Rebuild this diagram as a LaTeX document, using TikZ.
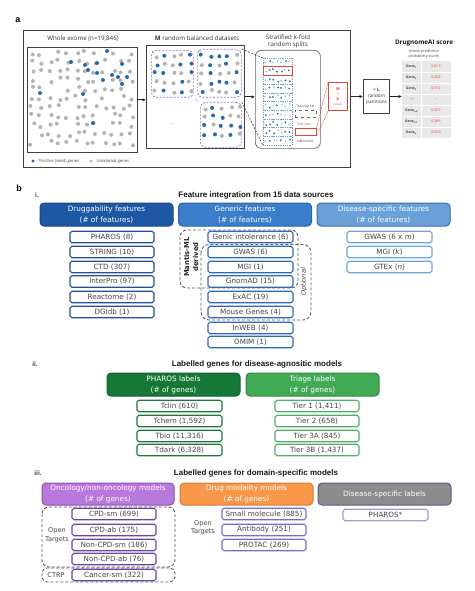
\documentclass[tikz,border=0pt]{standalone}
\usepackage{fontspec}
\setmainfont{DejaVu Sans}
\newfontfamily\osans{Open Sans}
\newfontfamily\lsans{Liberation Sans}
\usetikzlibrary{arrows.meta}
\newcommand\fs[2]{\fontsize{#1pt}{#2pt}\selectfont}
\newcommand\tdots{...}
\definecolor{dotblue}{RGB}{40,105,170}
\definecolor{dotgrey}{RGB}{180,180,180}
\definecolor{sdash}{RGB}{150,110,205}
\definecolor{redc}{RGB}{225,70,60}
\definecolor{hbA}{RGB}{30,88,165}
\definecolor{hbAd}{RGB}{25,70,140}
\definecolor{hbB}{RGB}{58,125,200}
\definecolor{hbBd}{RGB}{40,100,170}
\definecolor{hbC}{RGB}{105,160,215}
\definecolor{hbCd}{RGB}{60,110,170}
\definecolor{ibA}{RGB}{35,80,150}
\definecolor{ibB}{RGB}{45,105,180}
\definecolor{ibC}{RGB}{110,165,220}
\definecolor{hgA}{RGB}{22,120,55}
\definecolor{hgB}{RGB}{65,170,85}
\definecolor{igA}{RGB}{30,120,60}
\definecolor{igB}{RGB}{80,175,100}
\definecolor{hpu}{RGB}{185,120,220}
\definecolor{hpud}{RGB}{140,80,180}
\definecolor{ipu}{RGB}{105,70,160}
\definecolor{hor}{RGB}{247,152,75}
\definecolor{hord}{RGB}{220,120,50}
\definecolor{hgr}{RGB}{140,140,140}
\definecolor{hgrd}{RGB}{100,90,130}
\definecolor{imo}{RGB}{125,105,200}
\definecolor{iph}{RGB}{165,155,215}
\definecolor{txg}{RGB}{70,70,70}
\definecolor{dashg}{RGB}{90,90,90}
\definecolor{stripec}{RGB}{120,160,200}

\newcommand\mydots[4]{%
  \foreach \i in {0,...,#3}{
    \foreach \j in {0,...,#4}{
      \pgfmathsetmacro\px{#1+\i*8.5+1.6*rand}
      \pgfmathsetmacro\py{#2+\j*8.8+1.6*rand}
      \pgfmathtruncatemacro\cc{rnd<0.5 ? 1 : 0}
      \ifnum\cc=1 \fill[dotblue] (\px,\py) circle (2.0);
      \else \fill[dotgrey] (\px,\py) circle (2.0); \fi
    }}}

\begin{document}
\begin{tikzpicture}[x=1pt,y=-1pt,
  abox/.style={draw=black!75, line width=0.8pt, inner sep=0pt},
  sbox/.style={draw=sdash, line width=0.7pt, rounded corners=5pt, inner sep=0pt, dash pattern=on 2pt off 1.5pt},
  arr/.style={-{Latex[length=3.5pt,width=3.5pt]}, line width=1pt, black!85},
  atitle/.style={font=\osans\fs{6.2}{7.4}, text=black!80},
  atiny/.style={font=\osans\fs{3.4}{4.2}, text=black!70},
  ttl/.style={font=\lsans\bfseries\fs{8}{9.6}, text=black!90},
  sec/.style={font=\lsans\bfseries\fs{6.5}{8}, text=black!75},
  hdr/.style={rounded corners=4pt, line width=1pt, minimum width=133pt, minimum height=23pt, inner sep=0pt, align=center, font=\fs{7.3}{11}, text=white},
  item/.style={draw, rounded corners=1.8pt, line width=1.1pt, minimum width=84pt, minimum height=11.5pt, inner sep=0pt, font=\fs{7.2}{8}, text=txg, fill=white},
  dashreg/.style={draw=dashg, line width=0.9pt, dash pattern=on 3pt off 2pt},
  lbl/.style={font=\fs{6.6}{8.5}, text=txg, align=center}
]
\useasboundingbox (0,0) rectangle (474,591);
\fill[white] (0,0) rectangle (474,591);

% ================= panel a =================
\node[font=\lsans\bfseries\fs{9}{10}] (la) at (18,20) {a};
\node[abox, anchor=north west, minimum width=327pt, minimum height=137pt] (outer) at (23,30) {};
\node[abox, anchor=north west, minimum width=110pt, minimum height=105pt] (exome) at (27,47) {};
\node[atitle] (exomet) at (83,39) {Whole exome (n=19,846)};

\pgfmathsetseed{4242}
\foreach \i in {0,...,11}{
  \foreach \j in {0,...,10}{
    \pgfmathsetmacro\px{32+\i*9+2.4*rand}
    \pgfmathsetmacro\py{53+\j*9+2.4*rand}
    \pgfmathtruncatemacro\skp{rnd>0.86 ? 1 : 0}
    \ifnum\skp=0 \fill[dotgrey] (\px,\py) circle (2.0); \fi
  }}
\foreach \p in {(107,51),(71,62),(85,65),(97,63),(88,70),(122,64),(112,75),(118,77),(97,73),(103,80),(127,77),(122,84),(40,93),(83,94),(93,123)}
  \fill[dotblue] \p circle (2.0);

% legend
\fill[dotblue] (33,161) circle (1.6);
\node[atiny, anchor=west, font=\osans\fs{4.2}{5}] (leg1) at (35,161) {Positive (seed) genes};
\fill[dotgrey] (91,161) circle (1.6);
\node[atiny, anchor=west, font=\osans\fs{4.2}{5}] (leg2) at (93,161) {Unlabeled genes};

% M datasets
\node[abox, anchor=north west, minimum width=98pt, minimum height=103pt] (mset) at (146,45) {};
\node[atitle] (msett) at (197,38) {\textbf{M} random balanced datasets};
\node[sbox, anchor=north west, minimum width=42pt, minimum height=47pt] (s1) at (151,50) {};
\node[sbox, anchor=north west, minimum width=44pt, minimum height=48pt] (s2) at (197,49) {};
\node[sbox, anchor=north west, minimum width=41pt, minimum height=45pt] (sm) at (200,102) {};
\node[font=\osans\fs{3.2}{4}, text=sdash] (s1l) at (154,53) {S\textsubscript{1}};
\node[font=\osans\fs{3.2}{4}, text=sdash] (s2l) at (200,52) {S\textsubscript{2}};
\node[font=\osans\fs{3.2}{4}, text=sdash] (sml) at (197,101) {S\textsubscript{M}};
\mydots{156}{56}{4}{4}
\mydots{202}{56}{4}{4}
\mydots{205}{108}{4}{3}
\node[font=\osans\fs{5}{6}, text=black!60] (mdots) at (172,124) {\tdots};

% k-fold
\node[atitle] (kt1) at (288,37) {Stratified k-fold};
\node[atitle] (kt2) at (288,45) {random splits};
\node[draw=black!60, line width=0.7pt, rounded corners=6pt, anchor=north west, minimum width=65pt, minimum height=98pt, inner sep=0pt] (kfold) at (255,50) {};
\node[anchor=north west, minimum width=29pt, minimum height=87pt, inner sep=0pt] (stripes) at (263,58) {};
\foreach \r in {0,...,9}{
  \pgfmathsetmacro\yy{58+\r*8.7}
  \draw[stripec, line width=0.4pt, dash pattern=on 1pt off 0.8pt] (263,\yy) rectangle (292,\yy+8.7);
  \foreach \k in {0,...,6}{
    \pgfmathsetmacro\dx{265.5+\k*4+0.8*rand}
    \pgfmathsetmacro\dy{\yy+4.35+2*rand}
    \pgfmathtruncatemacro\cc{rnd<0.45 ? 1 : 0}
    \ifnum\cc=1 \fill[dotblue] (\dx,\dy) circle (1.0);
    \else \fill[dotgrey] (\dx,\dy) circle (0.9); \fi
  }}
\draw[redc, line width=0.8pt] (263,66.7) rectangle (292,75.4);
\draw[dashg, line width=0.7pt, dash pattern=on 2pt off 1.5pt] (s2.north east) -- (stripes.north west);
\draw[dashg, line width=0.7pt, dash pattern=on 2pt off 1.5pt] (sm.north east) -- (stripes.south west);
\node[atiny] (trnl) at (305.5,107) {Training set};
\node[draw=black!60, dashed, line width=0.4pt, anchor=north west, minimum width=21pt, minimum height=7pt, inner sep=0pt] (trn) at (295,110) {};
\node[atiny, text=redc] (tstl) at (304,124) {Test sets};
\node[draw=redc, line width=0.6pt, anchor=north west, minimum width=21pt, minimum height=7pt, inner sep=0pt] (tst) at (295,128) {};
\node[atiny] (ktimes) at (305,141) {(x \textbf{k} times)};
\node[draw=redc, line width=0.9pt, anchor=north west, minimum width=19pt, minimum height=28pt, inner sep=0pt] (fold) at (328,82) {};
\node[font=\osans\fs{4}{5}, text=redc, align=center] (foldt) at (fold.center) {\textbf{M}\\×\\\textbf{k}\\{\fs{2.6}{3.5}folders}};
\draw[redc, line width=0.5pt, dash pattern=on 1.5pt off 1pt] (tst.north east) -- (fold.north west);
\draw[redc, line width=0.5pt, dash pattern=on 1.5pt off 1pt] (tst.south east) -- (fold.south west);

% arrows a
\draw[arr] (exome.east) -- (exome.east -| mset.west);
\draw[arr] (mset.east) -- (mset.east -| kfold.west);
\node[abox, line width=1pt, anchor=north west, minimum width=26pt, minimum height=34pt] (lbox) at (363,79) {};
\node[font=\osans\fs{4.6}{5.6}, text=black!80, align=center] (lboxt) at (lbox.center) {× \textbf{L}\\random\\partitions};
\draw[arr] (lbox.west -| outer.east) -- (lbox.west);

% score table
\node[font=\osans\bfseries\fs{6.3}{7.5}, text=black!90] (scoret) at (424,43) {DrugnomeAI score};
\node[font=\osans\fs{3.8}{5.4}, text=black!70, align=center] (scores) at (424,54) {(mean prediction\\probability score)};
\node[anchor=north west, minimum width=49pt, minimum height=77pt, inner sep=0pt, fill=black!9] (tbl) at (402,61) {};
\draw[arr] (lbox.east) -- (lbox.east -| tbl.west);
\foreach \g/\v [count=\i from 0] in {Gene\textsubscript{1}/0.813, Gene\textsubscript{2}/0.304, Gene\textsubscript{3}/0.912, \tdots/\tdots, Gene\textsubscript{n-2}/0.457, Gene\textsubscript{n-1}/0.285, Gene\textsubscript{n}/0.829}{
  \pgfmathsetmacro\ty{61+\i*11+5.5}
  \node[font=\osans\bfseries\fs{3.4}{4}, text=black!75] at (411.5,\ty) {\g};
  \node[font=\osans\fs{3.6}{4}, text=redc] at (436,\ty) {\v};
}
\foreach \i in {1,...,6} \draw[white, line width=0.9pt] (402,61+\i*11) -- (451,61+\i*11);
\draw[white, line width=0.9pt] (421,61) -- (421,138);

% ================= panel b =================
\node[font=\lsans\bfseries\fs{9}{10}] (lb) at (19,188) {b};
\node[sec] (si) at (37,195) {i.};
\node[ttl] (t1) at (256,195) {Feature integration from 15 data sources};

\node[hdr, fill=hbA, draw=hbAd] (hdrug) at (106.5,214.5) {Druggability features\\(\# of features)};
\node[hdr, fill=hbB, draw=hbBd] (hgen) at (245,214.5) {Generic features\\(\# of features)};
\node[hdr, fill=hbC, draw=hbCd] (hdis) at (383.5,214.5) {Disease-specific features\\(\# of features)};

\node[item, draw=ibA] (d1) at (112,237) {PHAROS (8)};
\node[item, draw=ibA] (d2) at (112,252) {STRING (10)};
\node[item, draw=ibA] (d3) at (112,267) {CTD (307)};
\node[item, draw=ibA] (d4) at (112,281.5) {InterPro (97)};
\node[item, draw=ibA] (d5) at (112,297) {Reactome (2)};
\node[item, draw=ibA] (d6) at (112,312) {DGIdb (1)};

% dashed regions (behind items)
\draw[dashreg, rounded corners=7pt] (180,230) rectangle (298,288);
\draw[dashreg, rounded corners=8pt] (201,244.5) rectangle (311,320);

\node[item, draw=ibB, minimum width=85pt] (g1) at (250.5,237) {Genic intolerance (6)};
\node[item, draw=ibB, minimum width=85pt] (g2) at (250.5,252) {GWAS (6)};
\node[item, draw=ibB, minimum width=85pt] (g3) at (250.5,267) {MGI (1)};
\node[item, draw=ibB, minimum width=85pt] (g4) at (250.5,281.5) {GnomAD (15)};
\node[item, draw=ibB, minimum width=85pt] (g5) at (250.5,297) {ExAC (19)};
\node[item, draw=ibB, minimum width=85pt] (g6) at (250.5,312) {Mouse Genes (4)};
\node[item, draw=ibB, minimum width=85pt] (g7) at (250.5,328) {InWEB (4)};
\node[item, draw=ibB, minimum width=85pt] (g8) at (250.5,342) {OMIM (1)};

\node[item, draw=ibC, minimum width=85pt] (e1) at (389.5,237) {GWAS (6 x \textit{m})};
\node[item, draw=ibC, minimum width=85pt] (e2) at (389.5,252) {MGI (\textit{k})};
\node[item, draw=ibC, minimum width=85pt] (e3) at (389.5,267) {GTEx (\textit{n})};

\node[font=\bfseries\fs{6.8}{9}, text=black!85, align=center, rotate=90, inner sep=0pt] (mantis) at (191,257) {Mantis-ML\\derived};
\node[font=\itshape\fs{6.6}{7}, text=txg, rotate=90, fill=white, inner sep=0.5pt] (optl) at (304,282) {Optional};

% ii
\node[sec] (sii) at (35,364) {ii.};
\node[ttl] (t2) at (257,364) {Labelled genes for disease-agnositic models};
\node[hdr, fill=hgA, draw=hgA!80!black] (hph) at (173.5,384.5) {PHAROS labels\\(\# of genes)};
\node[hdr, fill=hgB, draw=hgB!80!black] (htr) at (312.5,384.5) {Triage labels\\(\# of genes)};
\node[item, draw=igA, minimum width=85pt] (p1) at (179.5,406) {Tclin (610)};
\node[item, draw=igA, minimum width=85pt] (p2) at (179.5,421) {Tchem (1,592)};
\node[item, draw=igA, minimum width=85pt] (p3) at (179.5,436) {Tbio (11,316)};
\node[item, draw=igA, minimum width=85pt] (p4) at (179.5,450) {Tdark (6,328)};
\node[item, draw=igB] (r1) at (317,406) {Tier 1 (1,411)};
\node[item, draw=igB] (r2) at (317,421) {Tier 2 (658)};
\node[item, draw=igB] (r3) at (317,436) {Tier 3A (845)};
\node[item, draw=igB] (r4) at (317,450) {Tier 3B (1,437)};

% iii
\node[sec] (siii) at (38,473) {iii.};
\node[ttl] (t3) at (256,473) {Labelled genes for domain-specific models};
\node[hdr, fill=hpu, draw=hpud, minimum width=132pt, minimum height=22pt] (honc) at (108,494) {Oncology/non-oncology models\\(\# of genes)};
\node[hdr, fill=hor, draw=hord, minimum width=133pt, minimum height=22pt] (hmod) at (246.5,494) {Drug modality models\\(\# of genes)};
\node[hdr, fill=hgr, draw=hgrd, minimum width=133pt, minimum height=22pt] (hdsl) at (384.5,494) {Disease-specific labels};

\draw[dashreg, rounded corners=7pt] (42,507) rectangle (175,567);
\draw[dashreg, rounded corners=5pt] (42,568) rectangle (175,582);
\node[item, draw=ipu] (o1) at (114,514) {CPD-sm (699)};
\node[item, draw=ipu] (o2) at (114,530) {CPD-ab (175)};
\node[item, draw=ipu] (o3) at (114,545) {Non-CPD-sm (186)};
\node[item, draw=ipu] (o4) at (114,559) {Non-CPD-ab (76)};
\node[item, draw=ipu] (o5) at (114,575) {Cancer-sm (322)};
\node[lbl] (ot1) at (57,535) {Open\\Targets};
\node[lbl] (ctrp) at (56,575) {CTRP};

\node[item, draw=imo] (m1) at (264,514) {Small molecule (885)};
\node[item, draw=imo] (m2) at (264,530) {Antibody (251)};
\node[item, draw=imo] (m3) at (264,545) {PROTAC (269)};
\node[lbl] (ot2) at (203,527.5) {Open\\Targets};

\node[item, draw=iph, minimum width=85pt] (phs) at (385.5,515) {PHAROS*};
\end{tikzpicture}
\end{document}
